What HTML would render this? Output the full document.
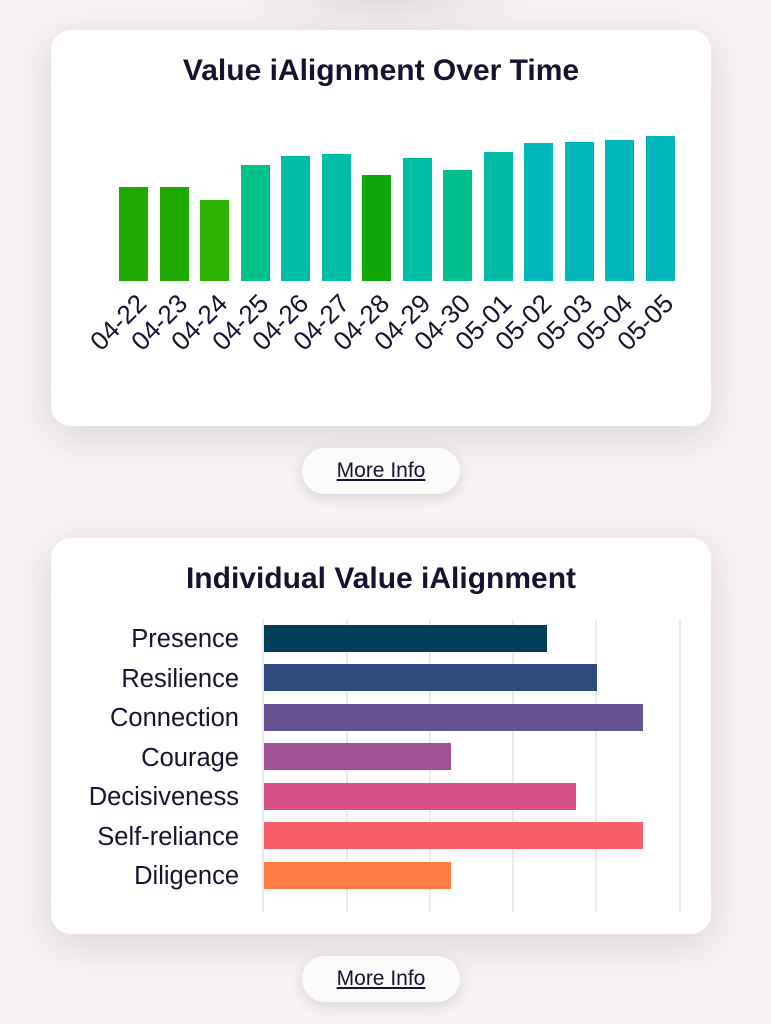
<!DOCTYPE html>
<html><head><style>
body{margin:0;width:771px;height:1024px;background:#f8f2f2;font-family:"Liberation Sans",sans-serif;position:relative;overflow:hidden;color:#141432}
.blob{position:absolute;left:230px;top:-70px;width:310px;height:110px;border-radius:50%;background:radial-gradient(ellipse at center,rgba(200,190,195,.6) 0%,rgba(230,222,225,.4) 45%,rgba(248,242,242,0) 75%)}
.card{position:absolute;left:51px;width:660px;height:396px;background:#fff;border-radius:20px;box-shadow:0 10px 40px rgba(80,60,70,.16)}
.btn{position:absolute;left:302px;width:158px;height:46px;border-radius:23px;background:#fbfbfb;box-shadow:0 4px 14px rgba(0,0,0,.12);text-align:center;line-height:46px;font-size:21px;text-decoration:underline;color:#141432}
</style></head><body>
<div class="blob"></div>
<div class="card" style="top:30px"></div>
<div class="card" style="top:538px"></div>
<div class="btn" style="top:448px">More Info</div>
<div class="btn" style="top:956px">More Info</div>
<svg width="771" height="1024" style="position:absolute;left:0;top:0" font-family="Liberation Sans, sans-serif">
<text x="381" y="80" text-anchor="middle" font-size="30" font-weight="bold" fill="#141432">Value iAlignment Over Time</text>
<g>
<rect x="119" y="187" width="29" height="94" fill="#1faa00"/>
<rect x="160" y="187" width="29" height="94" fill="#1faa00"/>
<rect x="200" y="200" width="29" height="81" fill="#2eb200"/>
<rect x="241" y="165" width="29" height="116" fill="#00c08e"/>
<rect x="281" y="156" width="29" height="125" fill="#00bda6"/>
<rect x="322" y="154" width="29" height="127" fill="#00bda6"/>
<rect x="362" y="175" width="29" height="106" fill="#0ea80a"/>
<rect x="403" y="158" width="29" height="123" fill="#00bda6"/>
<rect x="443" y="170" width="29" height="111" fill="#00c08e"/>
<rect x="484" y="152" width="29" height="129" fill="#00bba8"/>
<rect x="524" y="143" width="29" height="138" fill="#00b8ba"/>
<rect x="565" y="142" width="29" height="139" fill="#00b8ba"/>
<rect x="605" y="140" width="29" height="141" fill="#00b8ba"/>
<rect x="646" y="136" width="29" height="145" fill="#00b8ba"/>
</g>
<g font-size="26" fill="#141432" text-anchor="end">
<text transform="translate(148,305) rotate(-45)">04-22</text>
<text transform="translate(189,305) rotate(-45)">04-23</text>
<text transform="translate(229,305) rotate(-45)">04-24</text>
<text transform="translate(270,305) rotate(-45)">04-25</text>
<text transform="translate(310,305) rotate(-45)">04-26</text>
<text transform="translate(351,305) rotate(-45)">04-27</text>
<text transform="translate(391,305) rotate(-45)">04-28</text>
<text transform="translate(432,305) rotate(-45)">04-29</text>
<text transform="translate(472,305) rotate(-45)">04-30</text>
<text transform="translate(513,305) rotate(-45)">05-01</text>
<text transform="translate(553,305) rotate(-45)">05-02</text>
<text transform="translate(594,305) rotate(-45)">05-03</text>
<text transform="translate(634,305) rotate(-45)">05-04</text>
<text transform="translate(675,305) rotate(-45)">05-05</text>
</g>
<text x="381" y="588" text-anchor="middle" font-size="30" font-weight="bold" fill="#141432">Individual Value iAlignment</text>
<g stroke="#e4e4e4" stroke-width="1.5">
<line x1="263" y1="619" x2="263" y2="912"/><line x1="347" y1="619" x2="347" y2="912"/>
<line x1="430" y1="619" x2="430" y2="912"/><line x1="513" y1="619" x2="513" y2="912"/>
<line x1="596" y1="619" x2="596" y2="912"/><line x1="680" y1="619" x2="680" y2="912"/>
</g>
<rect x="264" y="625" width="283" height="27" fill="#033f5b"/>
<rect x="264" y="664" width="333" height="27" fill="#2f4b7c"/>
<rect x="264" y="704" width="379" height="27" fill="#665191"/>
<rect x="264" y="743" width="187" height="27" fill="#a05195"/>
<rect x="264" y="783" width="312" height="27" fill="#d45087"/>
<rect x="264" y="822" width="379" height="27" fill="#f95d6a"/>
<rect x="264" y="862" width="187" height="27" fill="#ff7c43"/>
<g font-size="25.5" fill="#141432" text-anchor="end">
<text x="239" y="647">Presence</text>
<text x="239" y="687">Resilience</text>
<text x="239" y="726">Connection</text>
<text x="239" y="766">Courage</text>
<text x="239" y="805">Decisiveness</text>
<text x="239" y="845">Self-reliance</text>
<text x="239" y="884">Diligence</text>
</g>
</svg>
</body></html>
